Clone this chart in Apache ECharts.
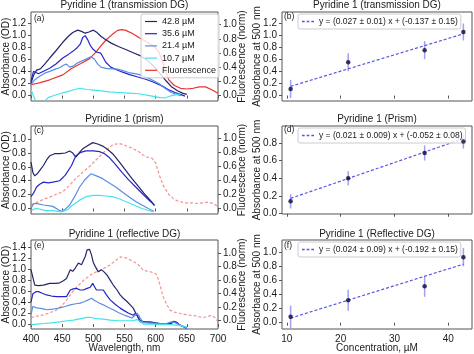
<!DOCTYPE html>
<html>
<head>
<meta charset="utf-8">
<script src="https://cdn.jsdelivr.net/npm/echarts@6/dist/echarts.min.js"></script>
<style>
html, body { margin: 0; padding: 0; background: #fff; }
#chart { width: 474px; height: 354px; }
</style>
</head>
<body>
<div id="chart"></div>
<script>
// --- spectra, [wavelength nm, value] ---
const a428 = [[400,0.2],[404,0.33],[409,0.42],[415,0.44],[422,0.52],[430,0.62],[440,0.74],[451,0.88],[460,0.98],[467,1.04],[475,1.08],[481,1.06],[487,1.03],[493,1.05],[500,1.08],[506,1.04],[512,0.98],[520,0.92],[528,0.87],[540,0.81],[552,0.76],[563,0.71],[575,0.66],[587,0.58],[598,0.47],[608,0.35],[617,0.24],[626,0.14],[635,0.08],[643,0.04],[650,0.02]]
const a356 = [[400,0.24],[404,0.4],[408,0.38],[412,0.36],[420,0.4],[430,0.45],[440,0.52],[451,0.62],[460,0.68],[467,0.73],[474,0.79],[479,0.85],[483,0.96],[487,0.99],[491,0.92],[495,0.83],[500,0.76],[505,0.72],[512,0.7],[520,0.55],[528,0.47],[536,0.43],[546,0.39],[557,0.35],[570,0.31],[584,0.27],[597,0.22],[610,0.16],[620,0.1],[631,0.05],[640,0.02],[647,-0.01]]
const a214 = [[400,0.18],[406,0.26],[414,0.32],[422,0.37],[430,0.4],[440,0.44],[446,0.46],[452,0.5],[457,0.52],[462,0.47],[468,0.49],[475,0.54],[483,0.58],[490,0.61],[496,0.64],[502,0.6],[507,0.52],[512,0.47],[520,0.45],[528,0.44],[536,0.44],[545,0.42],[557,0.38],[573,0.35],[590,0.28],[605,0.2],[615,0.12],[625,0.05],[633,0.02],[641,0.0]]
const a107 = [[400,0.1],[403,0.02],[407,-0.08],[412,-0.14],[418,-0.14],[423,-0.08],[428,-0.03],[437,0.0],[446,0.03],[460,0.07],[470,0.1],[478,0.12],[490,0.1],[500,0.09],[510,0.08],[525,0.06],[541,0.05],[557,0.04],[573,0.03],[590,0.0],[605,-0.03],[615,-0.04],[626,0.0],[635,0.02],[641,0.03]]
const aFluor = [[400,0.15],[415,0.18],[430,0.22],[451,0.29],[465,0.38],[480,0.45],[494,0.52],[505,0.62],[512,0.7],[520,0.78],[530,0.86],[539,0.92],[546,0.93],[552,0.92],[562,0.88],[573,0.82],[585,0.76],[597,0.7],[605,0.62],[612,0.45],[621,0.22],[630,0.14],[640,0.1],[650,0.09],[660,0.1],[670,0.12],[680,0.12],[690,0.08],[700,0.03]]

const c428 = [[400,0.67],[403,0.52],[406,0.47],[410,0.5],[415,0.56],[420,0.62],[425,0.7],[430,0.76],[438,0.79],[446,0.79],[455,0.8],[462,0.83],[467,0.8],[472,0.74],[477,0.8],[483,0.86],[490,0.9],[499,0.95],[507,0.93],[515,0.9],[523,0.85],[531,0.79],[541,0.68],[552,0.55],[562,0.43],[573,0.31],[581,0.22],[589,0.14],[594,0.09],[598,0.04]]
const c356 = [[400,0.17],[404,0.22],[409,0.31],[414,0.35],[420,0.38],[428,0.37],[435,0.38],[446,0.4],[455,0.48],[465,0.62],[472,0.76],[480,0.81],[488,0.83],[500,0.83],[510,0.82],[518,0.79],[525,0.74],[535,0.64],[546,0.52],[557,0.41],[568,0.31],[578,0.22],[589,0.12],[598,0.05]]
const c214 = [[400,0.0],[404,0.07],[410,0.07],[420,0.05],[435,0.03],[444,-0.02],[449,-0.04],[455,-0.01],[462,0.05],[470,0.17],[478,0.31],[486,0.41],[496,0.5],[505,0.47],[515,0.43],[525,0.37],[536,0.31],[546,0.24],[557,0.17],[568,0.1],[578,0.05],[588,0.0],[597,-0.04]]
const c107 = [[400,-0.03],[405,-0.01],[410,0.0],[418,-0.02],[425,-0.03],[435,-0.03],[449,-0.05],[458,-0.02],[467,0.05],[478,0.12],[488,0.17],[500,0.19],[510,0.19],[520,0.18],[531,0.17],[541,0.14],[552,0.1],[565,0.05],[578,0.0],[588,-0.03],[597,-0.05]]
const cFluor = [[400,0.05],[410,0.09],[420,0.13],[435,0.18],[451,0.24],[462,0.33],[472,0.43],[483,0.52],[494,0.6],[505,0.7],[515,0.79],[524,0.86],[531,0.91],[541,0.93],[549,0.91],[557,0.88],[565,0.85],[573,0.81],[584,0.74],[594,0.72],[600,0.65],[605,0.5],[612,0.33],[621,0.2],[630,0.13],[637,0.1],[648,0.08],[658,0.08],[667,0.07],[676,0.08],[684,0.09],[692,0.07],[700,0.03]]

const e428 = [[400,0.99],[403,1.0],[406,0.71],[412,0.7],[420,0.71],[430,0.74],[440,0.74],[446,0.75],[452,0.79],[457,0.83],[463,0.99],[467,0.96],[471,1.02],[476,1.11],[481,1.08],[485,1.18],[487,1.23],[490,1.35],[494,1.36],[497,1.26],[500,1.12],[503,1.05],[508,0.95],[513,0.99],[518,0.94],[522,0.89],[527,0.8],[532,0.71],[538,0.62],[543,0.53],[548,0.47],[554,0.41],[560,0.34],[564,0.29],[568,0.2],[570,0.16],[575,0.04],[583,0.04],[591,0.04],[600,0.02],[607,0.01],[615,0.01],[625,0.01],[629,0.05],[633,0.03],[639,-0.02],[645,-0.05],[650,-0.08]]
const e356 = [[400,0.4],[403,0.55],[408,0.59],[412,0.59],[418,0.56],[425,0.53],[433,0.51],[441,0.5],[450,0.5],[457,0.5],[463,0.62],[468,0.64],[473,0.65],[479,0.62],[484,0.62],[490,0.65],[495,0.67],[499,0.74],[502,0.68],[505,0.62],[510,0.62],[516,0.62],[521,0.53],[527,0.44],[535,0.36],[543,0.29],[550,0.24],[556,0.2],[564,0.16],[568,0.2],[571,0.2],[575,0.07],[583,0.03],[591,0.02],[605,0.01],[618,0.01],[625,0.02],[629,0.04],[634,0.03],[639,-0.02],[645,-0.05],[650,-0.08]]
const e214 = [[400,0.17],[403,0.32],[408,0.3],[412,0.29],[418,0.28],[425,0.26],[435,0.27],[444,0.29],[455,0.32],[463,0.35],[472,0.37],[479,0.38],[486,0.41],[492,0.44],[497,0.47],[501,0.44],[505,0.41],[510,0.38],[516,0.35],[524,0.3],[532,0.26],[540,0.21],[548,0.17],[555,0.14],[562,0.11],[567,0.16],[570,0.2],[573,0.16],[575,0.11],[580,0.03],[590,0.02],[607,0.01],[618,0.01],[625,0.04],[630,0.03],[634,0.01],[642,-0.03],[650,-0.08]]
const e107 = [[400,-0.01],[410,0.0],[420,0.01],[433,0.02],[446,0.04],[458,0.06],[468,0.07],[480,0.1],[490,0.12],[497,0.12],[505,0.1],[516,0.09],[527,0.07],[540,0.06],[554,0.06],[563,0.06],[570,0.08],[575,0.05],[580,0.0],[595,0.0],[607,-0.01],[625,-0.01],[640,-0.03],[650,-0.05]]
const eFluor = [[400,0.04],[410,0.06],[420,0.08],[430,0.11],[441,0.15],[450,0.22],[457,0.3],[465,0.4],[473,0.49],[484,0.59],[495,0.67],[503,0.71],[511,0.74],[519,0.78],[527,0.82],[535,0.88],[543,0.94],[549,0.93],[554,0.92],[562,0.88],[570,0.84],[576,0.79],[580,0.74],[591,0.72],[598,0.7],[602,0.67],[607,0.52],[612,0.35],[618,0.23],[623,0.15],[630,0.12],[639,0.1],[650,0.08],[661,0.07],[670,0.05],[677,0.04],[684,0.06],[690,0.07],[695,0.04],[700,-0.02]]

// --- absorbance at 500 nm vs concentration ---
const conc = [10.7, 21.4, 35.6, 42.8]
const absB = [0.11, 0.55, 0.75, 1.05]
const errB = [0.15, 0.15, 0.15, 0.14]
const absD = [0.14, 0.40, 0.685, 0.815]
const errD = [0.08, 0.08, 0.085, 0.08]
const absF = [0.085, 0.32, 0.52, 0.935]
const errF = [0.16, 0.15, 0.15, 0.13]
const fitB = [[10.7, 0.152], [42.8, 1.019]]
const fitD = [[10.7, 0.173], [42.8, 0.847]]
const fitF = [[10.7, 0.065], [42.8, 0.835]]
const fitNameB = 'y = (0.027 ± 0.01) x + (-0.137 ± 0.15)'
const fitNameD = 'y = (0.021 ± 0.009) x + (-0.052 ± 0.08)'
const fitNameF = 'y = (0.024 ± 0.09) x + (-0.192 ± 0.15)'

const concNames = ['42.8 µM', '35.6 µM', '21.4 µM', '10.7 µM']
const ticksAbsA = [0, 0.2, 0.4, 0.6, 0.8, 1.0, 1.2]
const ticksAbsC = [0, 0.2, 0.4, 0.6, 0.8, 1.0]
const ticksAbsE = [0, 0.2, 0.4, 0.6, 0.8, 1.0, 1.2, 1.4]
const ticksFluor = [0, 0.2, 0.4, 0.6, 0.8, 1.0]
const ticksD = [0, 0.2, 0.4, 0.6, 0.8]
const ticksF = [0, 0.2, 0.4, 0.6, 0.8, 1.0]
const ticksConc = [10, 20, 30, 40]

const FONT = '"Liberation Sans", Arial, sans-serif'
const TEXT = '#1a1a1a'
const FRAME = '#555'
const lineColors = ['#25256b', '#2626c8', '#5a8ee0', '#45e3ea']
const SOLID_ICON = 'path://M0,0H20V2H0Z'
const DASH_ICON = 'path://M0,0H4V2H0Z M7,0H11V2H7Z M14,0H18V2H14Z'

const chart = echarts.init(document.getElementById('chart'))

const rows = [{ top: 12, height: 89 }, { top: 126, height: 88 }, { top: 240, height: 89 }]
const grids = [
  ...rows.map((r) => ({ left: 31, width: 187, top: r.top, height: r.height })),
  ...rows.map((r) => ({ left: 282, width: 190, top: r.top, height: r.height })),
].map((g) => ({ ...g, show: true, borderColor: FRAME, borderWidth: 1, backgroundColor: 'transparent' }))

function xWave(gridIndex, labels) {
  return {
    type: 'value', gridIndex, min: 400, max: 700, interval: 50,
    axisLine: { show: false }, splitLine: { show: false },
    axisTick: { show: true, length: 3, lineStyle: { color: FRAME } },
    axisLabel: { show: labels, color: TEXT, fontSize: 10, fontFamily: FONT, margin: 5 },
  }
}

function xConc(gridIndex, labels) {
  return {
    type: 'value', gridIndex, min: 9.1, max: 44.4,
    axisLine: { show: false }, splitLine: { show: false },
    axisTick: { show: true, length: 3, customValues: ticksConc, lineStyle: { color: FRAME } },
    axisLabel: { show: labels, customValues: ticksConc, color: TEXT, fontSize: 10, fontFamily: FONT, margin: 5 },
  }
}

function yVal(gridIndex, min, max, ticks, position) {
  return {
    type: 'value', gridIndex, min, max, position,
    axisLine: { show: false }, splitLine: { show: false },
    axisTick: { show: true, length: 3, customValues: ticks, lineStyle: { color: FRAME } },
    axisLabel: {
      customValues: ticks, color: TEXT, fontSize: 10, fontFamily: FONT, margin: 5,
      formatter: (v) => v.toFixed(1),
    },
  }
}

function spectrum(name, data, color, xAxisIndex, yAxisIndex) {
  return {
    type: 'line', name, data, xAxisIndex, yAxisIndex,
    symbol: 'none', animation: false,
    lineStyle: { color, width: 1.2 }, itemStyle: { color },
  }
}

function fluor(data, xAxisIndex, yAxisIndex, dashed) {
  const color = dashed ? 'rgba(240,110,110,0.75)' : '#e8322c'
  return {
    type: 'line', name: 'Fluorescence', data, xAxisIndex, yAxisIndex,
    symbol: 'none', animation: false,
    lineStyle: { color, width: 1.2, type: dashed ? [3, 2] : 'solid' }, itemStyle: { color },
  }
}

function fitSeries(name, data, idx) {
  return {
    type: 'line', name, data, xAxisIndex: idx + 3, yAxisIndex: idx + 3,
    symbol: 'none', animation: false, z: 3,
    lineStyle: { color: '#5656e6', width: 1.2, type: [3, 2] }, itemStyle: { color: '#5656e6' },
  }
}

function errSeries(ys, errs, idx) {
  return {
    type: 'custom', xAxisIndex: idx + 3, yAxisIndex: idx + 3, animation: false, z: 2,
    data: conc.map((c, i) => [c, ys[i], errs[i]]),
    renderItem: (params, api) => {
      const x = api.value(0), y = api.value(1), e = api.value(2)
      const p1 = api.coord([x, y + e])
      const p2 = api.coord([x, y - e])
      return {
        type: 'line',
        shape: { x1: p1[0], y1: p1[1], x2: p2[0], y2: p2[1] },
        style: { stroke: 'rgba(120,120,240,0.7)', lineWidth: 1.5 },
      }
    },
  }
}

function points(ys, idx) {
  return {
    type: 'scatter', xAxisIndex: idx + 3, yAxisIndex: idx + 3, animation: false, z: 4,
    data: conc.map((c, i) => [c, ys[i]]),
    symbol: 'circle', symbolSize: 4.5, itemStyle: { color: '#0a0a35' },
  }
}

const xAxis = [
  xWave(0, false), xWave(1, false), xWave(2, true),
  xConc(3, false), xConc(4, false), xConc(5, true),
]
// y: 0-2 absorbance (left panels), 3-5 right panels, 6-8 fluorescence (left panels)
const yAxis = [
  yVal(0, -0.09, 1.38, ticksAbsA, 'left'),
  yVal(1, -0.08, 1.19, ticksAbsC, 'left'),
  yVal(2, -0.09, 1.53, ticksAbsE, 'left'),
  yVal(3, -0.09, 1.38, ticksAbsA, 'left'),
  yVal(4, -0.003, 0.99, ticksD, 'left'),
  yVal(5, -0.09, 1.18, ticksF, 'left'),
  yVal(0, -0.08, 1.18, ticksFluor, 'right'),
  yVal(1, -0.08, 1.18, ticksFluor, 'right'),
  yVal(2, -0.13, 1.19, ticksFluor, 'right'),
]

const spectra = [[a428, a356, a214, a107], [c428, c356, c214, c107], [e428, e356, e214, e107]]
const fluors = [aFluor, cFluor, eFluor]
const series = []
spectra.forEach((set, p) => {
  series.push(fluor(fluors[p], p, p + 6, p > 0))
  set.forEach((d, k) => series.push(spectrum(concNames[k], d, lineColors[k], p, p)))
})
series.push(errSeries(absB, errB, 0), fitSeries(fitNameB, fitB, 0), points(absB, 0))
series.push(errSeries(absD, errD, 1), fitSeries(fitNameD, fitD, 1), points(absD, 1))
series.push(errSeries(absF, errF, 2), fitSeries(fitNameF, fitF, 2), points(absF, 2))

const legendBase = {
  orient: 'vertical', itemWidth: 12, itemHeight: 1.5, itemGap: 3.2,
  padding: [3, 3, 3, 4], backgroundColor: 'rgba(255,255,255,0.8)',
  borderColor: '#cccccc', borderWidth: 1, borderRadius: 2,
  textStyle: { color: TEXT, fontSize: 9, fontFamily: FONT },
  selectedMode: false,
}
const fitLegend = { ...legendBase, textStyle: { ...legendBase.textStyle, fontSize: 8.5 } }
const legend = [
  { ...legendBase, left: 141, top: 14, data: [...concNames, 'Fluorescence'].map((name) => ({ name, icon: SOLID_ICON })) },
  { ...fitLegend, left: 298, top: 14, data: [{ name: fitNameB, icon: DASH_ICON }] },
  { ...fitLegend, left: 298, top: 128, data: [{ name: fitNameD, icon: DASH_ICON }] },
  { ...fitLegend, left: 298, top: 242, data: [{ name: fitNameF, icon: DASH_ICON }] },
]

function label(text, x, y, opts = {}) {
  return {
    type: 'text', x, y, rotation: opts.rot || 0, z: 100,
    style: {
      text, fill: TEXT, fontSize: opts.size || 10, fontFamily: FONT,
      align: opts.align || 'center', verticalAlign: 'middle',
      textAlign: opts.align || 'center', textVerticalAlign: 'middle',
    },
  }
}

const R = Math.PI / 2
const graphic = [
  label('Pyridine 1 (transmission DG)', 124.5, 5),
  label('Pyridine 1 (prism)', 124.5, 119),
  label('Pyridine 1 (reflective DG)', 124.5, 234),
  label('Pyridine 1 (transmission DG)', 377, 5),
  label('Pyridine 1 (Prism)', 377, 119),
  label('Pyridine 1 (Reflective DG)', 377, 234),
  label('Wavelength, nm', 124.5, 348.5),
  label('Concentration, µM', 377, 348.5),
  ...rows.flatMap((r) => [
    label('Absorbance (OD)', 6, r.top + r.height / 2, { rot: R }),
    label('Fluorescence (norm)', 242.5, r.top + r.height / 2, { rot: R }),
    label('Absorbance at 500 nm', 257.5, r.top + r.height / 2, { rot: R }),
  ]),
  label('(a)', 34, 19, { align: 'left', size: 8.5 }),
  label('(c)', 34, 131, { align: 'left', size: 8.5 }),
  label('(e)', 34, 246, { align: 'left', size: 8.5 }),
  label('(b)', 284, 17, { align: 'left', size: 8.5 }),
  label('(d)', 284, 130, { align: 'left', size: 8.5 }),
  label('(f)', 284, 246, { align: 'left', size: 8.5 }),
]

chart.setOption({
  animation: false,
  grid: grids,
  xAxis,
  yAxis,
  legend,
  graphic,
  series,
})
</script>
</body>
</html>
